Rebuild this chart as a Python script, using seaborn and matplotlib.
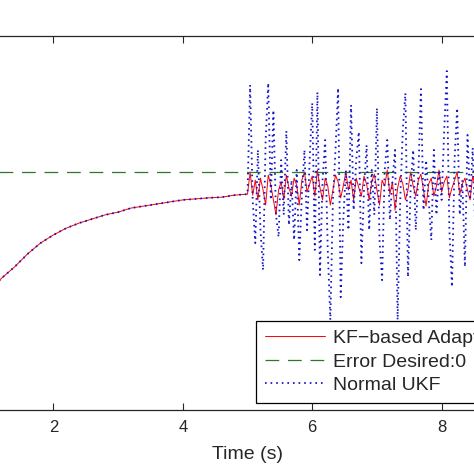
import numpy as np
import pandas as pd
import seaborn as sns
import matplotlib
matplotlib.use("Agg")
import matplotlib.pyplot as plt

sns.set_style("ticks")
plt.rcParams["font.family"] = ["Liberation Sans", "DejaVu Sans"]

# smooth start (both filters agree before the disturbance at 5 s)
t_curve = [1.0, 1.2, 1.4, 1.6, 1.8, 2.0, 2.2, 2.4, 2.6, 2.8, 3.0,
           3.2, 3.4, 3.6, 3.8, 4.0, 4.2, 4.4, 4.6, 4.8]
err_curve = [-0.353, -0.312, -0.279, -0.241, -0.209, -0.185, -0.165, -0.150,
             -0.138, -0.126, -0.118, -0.106, -0.100, -0.094, -0.088, -0.082,
             -0.079, -0.076, -0.074, -0.068]

# after 5 s, sampled every 0.04 s
t_noise = [round(5.0 + 0.04 * i, 2) for i in range(90)]
err_adaptive = [
    -0.065, 0.0, -0.068, -0.024, -0.082, -0.018, -0.053, -0.097, -0.009, -0.038,
    -0.082, -0.126, -0.053, -0.029, -0.082, -0.009, -0.047, -0.071, -0.018, -0.038,
    -0.097, -0.024, 0.0, -0.059, -0.035, -0.012, -0.071, 0.006, -0.047, -0.082,
    -0.018, -0.041, -0.097, -0.053, -0.009, -0.029, -0.076, -0.041, 0.0, -0.053,
    -0.024, -0.082, -0.018, -0.047, -0.071, -0.012, -0.035, -0.082, -0.029, -0.006,
    -0.053, -0.097, -0.024, -0.041, 0.006, -0.065, -0.029, -0.112, -0.047, -0.012,
    -0.035, -0.082, -0.053, 0.0, -0.041, -0.071, -0.024, -0.006, -0.053, -0.100,
    -0.035, -0.018, -0.071, -0.041, 0.006, -0.059, -0.029, -0.012, -0.076, -0.047,
    -0.024, 0.0, -0.065, -0.035, -0.018, -0.053, -0.082, -0.012, -0.041, -0.029,
]
err_normal = [
    -0.065, 0.256, -0.082, -0.209, 0.065, -0.171, -0.288, 0.094, 0.262, -0.082,
    0.182, -0.126, -0.191, 0.035, -0.126, 0.121, -0.156, -0.024, -0.200, 0.006,
    -0.259, -0.068, 0.065, -0.171, 0.035, 0.203, -0.229, 0.235, -0.303, -0.024,
    0.094, -0.229, -0.435, -0.082, 0.065, 0.247, -0.368, -0.141, 0.006, -0.171,
    0.197, -0.112, 0.035, 0.118, -0.268, -0.053, 0.079, -0.171, 0.006, -0.126,
    0.188, -0.200, -0.318, 0.006, 0.094, -0.141, -0.024, 0.065, -0.435, -0.082,
    0.124, 0.232, -0.309, -0.053, 0.065, -0.171, -0.009, 0.244, -0.112, 0.035,
    -0.082, -0.200, 0.065, -0.126, 0.006, -0.082, 0.124, 0.297, -0.171, -0.338,
    0.035, 0.188, -0.126, -0.024, -0.279, 0.109, -0.082, 0.071, -0.171, 0.006,
]
desired = 0.0

x_ticks = [0, 2, 4, 6, 8, 10]
x_ticklabels = ["", "2", "4", "6", "8", ""]   # 0 and 10 fall outside the crop

df_adaptive = pd.DataFrame({"t": t_curve + t_noise, "err": err_curve + err_adaptive})
df_normal = pd.DataFrame({"t": t_curve + t_noise, "err": err_curve + err_normal})
df_desired = pd.DataFrame({"t": [0, 10], "err": [desired, desired]})

fig = plt.figure(figsize=(4.74, 4.74), dpi=100)
ax = fig.add_axes([-0.1603, 0.135, 1.365, 0.789])

sns.lineplot(data=df_adaptive, x="t", y="err", ax=ax, color="red", linewidth=0.7,
             estimator=None, sort=False, label="KF\u2212based Adaptive UKF")
sns.lineplot(data=df_desired, x="t", y="err", ax=ax, color="#2a7a2a", linewidth=0.9,
             dashes=False, label="Error Desired:0")
ax.lines[-1].set_dashes((11, 7))
sns.lineplot(data=df_normal, x="t", y="err", ax=ax, color="#1414c8", linewidth=1.3,
             estimator=None, sort=False, label="Normal UKF")
ax.lines[-1].set_linestyle((0, (0.9, 2.2)))

ax.set_xlim(0, 10)
ax.set_ylim(-0.7, 0.4)
ax.set_xticks(x_ticks)
ax.set_xticklabels(x_ticklabels)
ax.set_yticks([-0.6, -0.4, -0.2, 0, 0.2, 0.4])
ax.set_yticklabels([])
ax.tick_params(direction="in", length=5, width=0.8, colors="#262626",
               labelsize=12, pad=7, top=True, right=True)
for s in ax.spines.values():
    s.set_linewidth(0.9)
    s.set_color("#262626")
ax.set_xlabel("Time (s)", fontsize=14, labelpad=8)
ax.set_ylabel("")

ax.legend(loc="lower left", bbox_to_anchor=(0.540, 0.150),
          bbox_transform=fig.transFigure, fontsize=14, frameon=True,
          fancybox=False, edgecolor="black", framealpha=1,
          handlelength=3.1, handletextpad=0.4, labelspacing=0.3,
          borderpad=0.45, borderaxespad=0)
ax.get_legend().get_frame().set_linewidth(0.9)

fig.savefig("out.png", dpi=100)
